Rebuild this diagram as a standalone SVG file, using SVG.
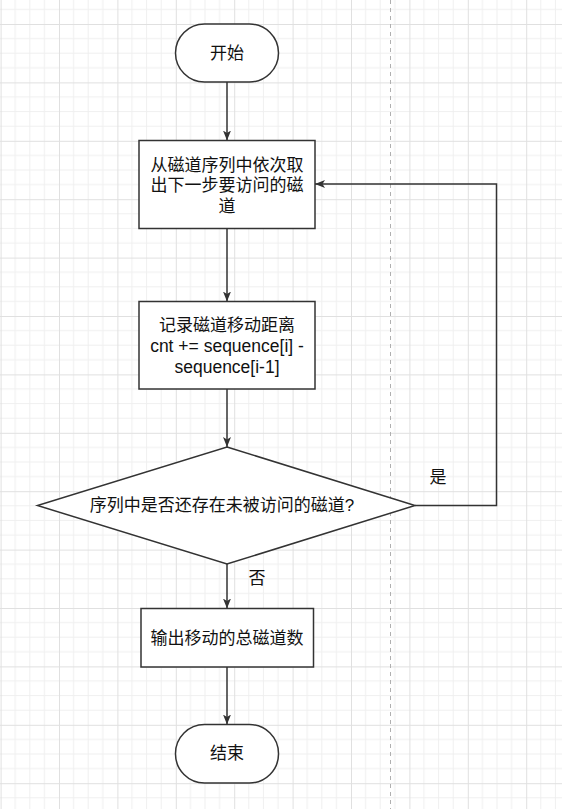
<svg xmlns="http://www.w3.org/2000/svg" width="562" height="809" viewBox="0 0 562 809">
<style>
.node{fill:#ffffff;stroke:#333333;stroke-width:1.5}
.edge{fill:none;stroke:#333333;stroke-width:1.5}
.t{font-family:"Liberation Sans","Noto Sans CJK SC",sans-serif;font-size:17px;fill:#111111;text-anchor:middle;dominant-baseline:central}
.m{font-family:"Liberation Sans","Noto Sans CJK SC",sans-serif;font-size:17.5px;fill:#111111;text-anchor:middle;dominant-baseline:central}
</style>
<defs>
<pattern id="grid" patternUnits="userSpaceOnUse" x="0.6" y="24" width="58.4" height="58.4">
<path d="M14.6 0V58.4M29.2 0V58.4M43.8 0V58.4M0 14.6H58.4M0 29.2H58.4M0 43.8H58.4" stroke="#efefef" stroke-width="1" fill="none"/>
<path d="M0.5 0V58.4M0 0.5H58.4" stroke="#e0e0e0" stroke-width="1" fill="none"/>
</pattern>
<marker id="arr" viewBox="0 0 10 8" refX="10" refY="4" markerWidth="10" markerHeight="8" markerUnits="userSpaceOnUse" orient="auto">
<path d="M0 0L10 4L0 8L2.5 4z" fill="#333333"/>
</marker>
</defs>
<rect width="562" height="809" fill="#ffffff"/>
<rect width="562" height="809" fill="url(#grid)"/>
<line x1="390.5" y1="0" x2="390.5" y2="809" stroke="#b0b0b0" stroke-width="1" stroke-dasharray="4 4"/>
<g id="connectors">
<line class="edge" x1="227" y1="82" x2="227" y2="140.5" marker-end="url(#arr)"/>
<line class="edge" x1="227" y1="228.5" x2="227" y2="301.5" marker-end="url(#arr)"/>
<line class="edge" x1="227" y1="389" x2="227" y2="447" marker-end="url(#arr)"/>
<polyline class="edge" points="415,505.5 496.5,505.5 496.5,184 315,184" marker-end="url(#arr)"/>
<line class="edge" x1="227" y1="564" x2="227" y2="608.5" marker-end="url(#arr)"/>
<line class="edge" x1="227" y1="667" x2="227" y2="724.5" marker-end="url(#arr)"/>
<text class="t" x="438" y="477">是</text>
<text class="t" x="257" y="578">否</text>
</g>
<g id="start">
<rect class="node" x="175.5" y="24" width="103" height="58" rx="29" ry="29"/>
<text class="t" x="227" y="53">开始</text>
</g>
<g id="fetch">
<rect class="node" x="139" y="140.5" width="176" height="88"/>
<text class="t" x="227" y="165">从磁道序列中依次取</text>
<text class="t" x="227" y="185.5">出下一步要访问的磁</text>
<text class="t" x="227" y="206">道</text>
</g>
<g id="record">
<rect class="node" x="139" y="301.5" width="176" height="87.5"/>
<text class="t" x="227" y="325">记录磁道移动距离</text>
<text class="m" x="227" y="346">cnt += sequence[i] -</text>
<text class="m" x="227" y="367">sequence[i-1]</text>
</g>
<g id="decision">
<polygon class="node" points="227,447 415,505.5 227,564 37.5,505.5"/>
<text class="t" x="222" y="505.5">序列中是否还存在未被访问的磁道?</text>
</g>
<g id="output">
<rect class="node" x="141" y="608.5" width="172.5" height="58.5"/>
<text class="t" x="227" y="638">输出移动的总磁道数</text>
</g>
<g id="end">
<rect class="node" x="175.5" y="724.5" width="103" height="58.5" rx="29" ry="29"/>
<text class="t" x="227" y="753.5">结束</text>
</g>
</svg>
